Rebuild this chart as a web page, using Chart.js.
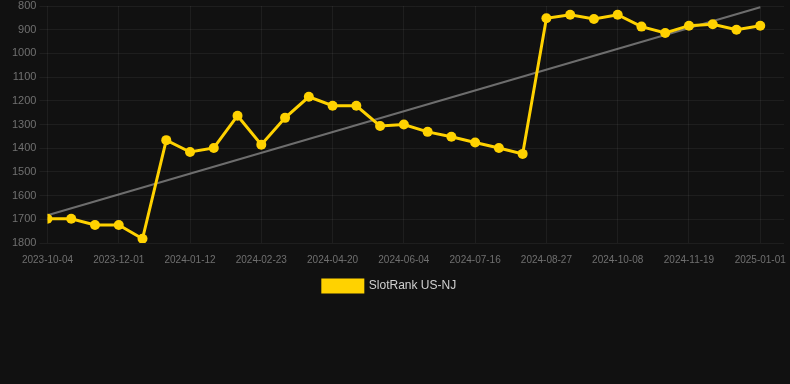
<!DOCTYPE html>
<html>
<head>
<meta charset="utf-8">
<script src="https://cdn.jsdelivr.net/npm/chart.js@4/dist/chart.umd.min.js"></script>
<style>
  html, body { margin: 0; padding: 0; background: #111111; }
  #wrap { width: 790px; height: 384px; }
</style>
</head>
<body>
<div id="wrap"><canvas id="rankChart"></canvas></div>
<script>
// tarehe za kila kipimo (kila lebo ya tatu ndiyo inaonekana)
const dates = [
  '2023-10-04', '2023-10-18', '2023-11-08', '2023-12-01', '2023-12-15', '2023-12-29',
  '2024-01-12', '2024-01-26', '2024-02-09', '2024-02-23', '2024-03-15', '2024-04-05',
  '2024-04-20', '2024-05-07', '2024-05-21', '2024-06-04', '2024-06-18', '2024-07-02',
  '2024-07-16', '2024-07-30', '2024-08-13', '2024-08-27', '2024-09-10', '2024-09-24',
  '2024-10-08', '2024-10-22', '2024-11-05', '2024-11-19', '2024-12-03', '2024-12-17',
  '2025-01-01'
];
const slotRank = [
  1698, 1698, 1724, 1724, 1782, 1366, 1416, 1399, 1263, 1385, 1272, 1183,
  1221, 1221, 1306, 1300, 1331, 1352, 1376, 1399, 1424, 852, 837, 855,
  837, 887, 914, 883, 877, 900, 883
];
// mstari wa mwelekeo (mwanzo na mwisho)
const trendIndex = [0, 30];
const trendRank = [1683, 805];
const yTicks = [800, 900, 1000, 1100, 1200, 1300, 1400, 1500, 1600, 1700, 1800];

const gridColor = 'rgba(255,255,255,0.055)';
const tickColor = '#707070';

// songeza legend kidogo kushoto
const legendShift = {
  id: 'legendShift',
  afterLayout(chart) {
    if (chart.legend) {
      chart.legend.left -= 10;
      chart.legend.right -= 10;
    }
  }
};

const ctx = document.getElementById('rankChart').getContext('2d');
new Chart(ctx, {
  type: 'line',
  data: {
    datasets: [{
      label: 'SlotRank US-NJ',
      data: slotRank.map((v, i) => ({ x: i, y: v })),
      borderColor: '#ffd200',
      backgroundColor: '#ffd200',
      borderWidth: 3,
      pointRadius: 5,
      pointHoverRadius: 6,
      pointBackgroundColor: '#ffd200',
      pointBorderWidth: 0,
      tension: 0,
      order: 1
    }, {
      label: 'trend',
      data: trendIndex.map((x, i) => ({ x: x, y: trendRank[i] })),
      borderColor: 'rgba(140,140,140,0.75)',
      borderWidth: 2,
      pointRadius: 0,
      fill: false,
      order: 2
    }]
  },
  plugins: [legendShift],
  options: {
    responsive: true,
    maintainAspectRatio: false,
    animation: false,
    layout: { padding: { left: 9, right: 0, top: 0, bottom: 82 } },
    scales: {
      x: {
        type: 'linear',
        min: 0,
        max: 31,
        grid: {
          color: c => (c.tick && c.tick.value % 3 === 0 && c.tick.value <= 30) ? gridColor : 'transparent',
          drawTicks: false
        },
        border: { display: false },
        afterFit: axis => {
          axis.paddingRight = 0;
          axis.height = 27;
        },
        ticks: {
          stepSize: 3,
          autoSkip: false,
          maxRotation: 0,
          padding: 11,
          color: tickColor,
          font: { size: 10 },
          callback: v => dates[v] || ''
        }
      },
      y: {
        reverse: true,
        min: 800,
        max: 1800,
        afterBuildTicks: axis => { axis.ticks = yTicks.map(v => ({ value: v })); },
        afterFit: axis => { axis.paddingTop = 6; },
        grid: { color: gridColor, tickLength: 8 },
        border: { display: false },
        ticks: {
          color: tickColor,
          padding: 3,
          font: { size: 11 },
          callback: v => String(v)
        }
      }
    },
    plugins: {
      legend: {
        position: 'bottom',
        labels: {
          color: '#d0d0d0',
          boxWidth: 40,
          font: { size: 12 },
          filter: item => item.text !== 'trend'
        }
      },
      tooltip: { enabled: false }
    }
  }
});
</script>
</body>
</html>
